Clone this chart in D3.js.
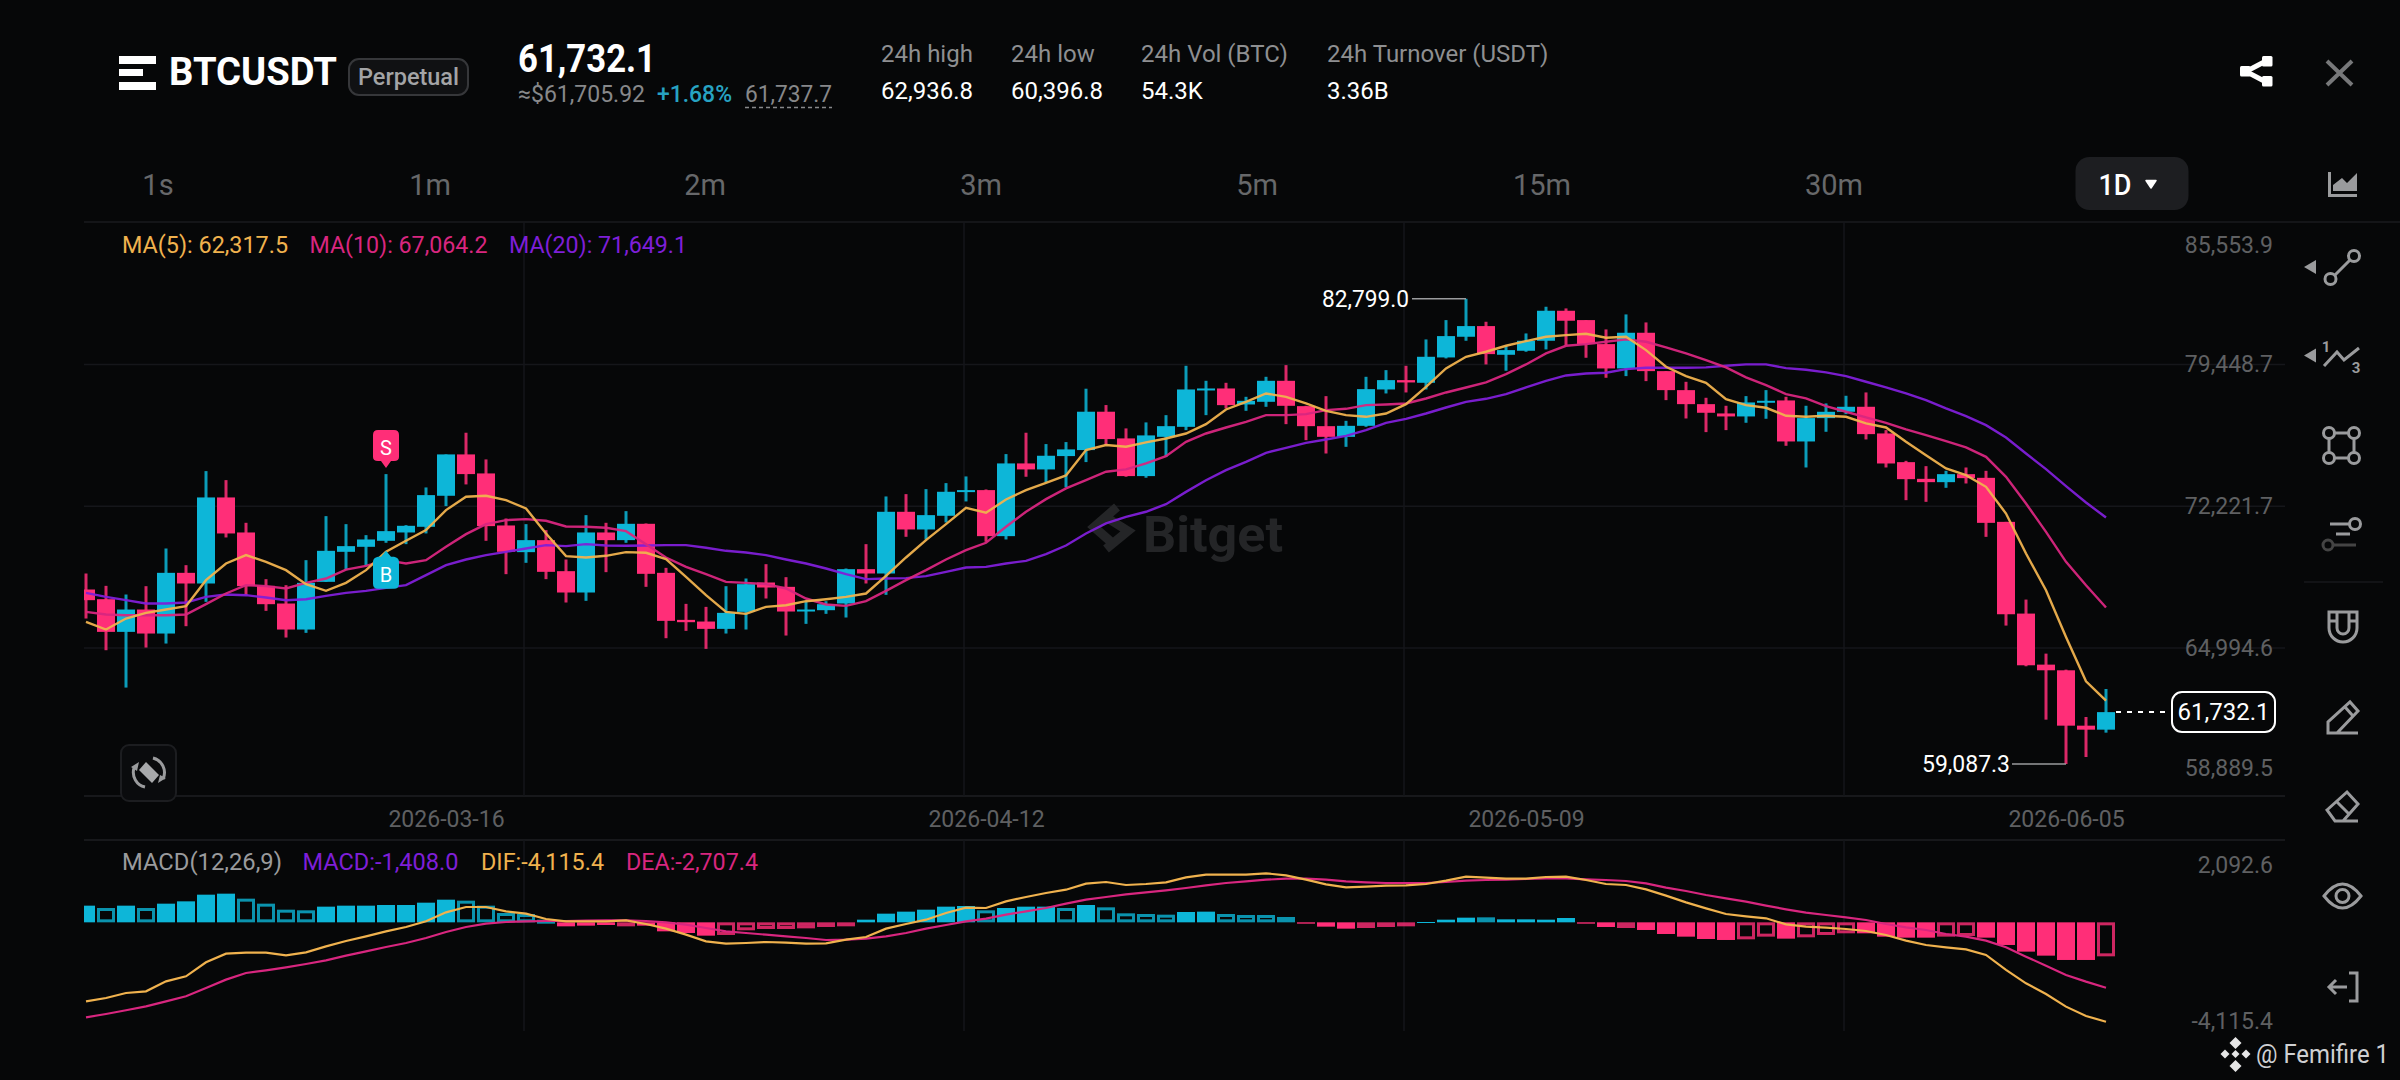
<!DOCTYPE html>
<html>

<head>
    <title>BTCUSDT Perpetual - 1D</title>
    <script src="https://d3js.org/d3.v7.min.js"></script>
    <style>
        body {
            margin: 0;
            background: #060708;
        }

        text {
            font-family: Roboto, "Noto Sans", sans-serif;
        }

        .tick text {
            font-family: Roboto, "Noto Sans", sans-serif;
            font-size: 23px;
            fill: #5f6062;
        }
    </style>
</head>

<body>
    <div id="chart"></div>
    <script>
        // daily candles, index 0 = 2026-02-26
        var opens = [
            67981, 67488, 65822, 66961, 65737, 68831, 68287, 72673, 70888, 68168,
            67267, 65941, 68372, 69902, 70157, 70463, 70888, 71177, 72758, 74866,
            73897, 71245, 69885, 70497, 68916, 67828, 70888, 70497, 71330, 68831,
            66434, 66349, 65975, 66842, 68338, 68117, 66859, 66927, 67267, 69018,
            68797, 71942, 71041, 71738, 72945, 73047, 70701, 74407, 74101, 74781,
            75087, 77042, 75682, 73761, 75762, 76272, 78142, 78227, 77411, 77547,
            78618, 77326, 76306, 75762, 76323, 78176, 78652, 78516, 79808, 80862,
            81406, 79944, 80148, 80658, 82188, 81712, 80488, 79247, 81066, 79111,
            78142, 77428, 76954, 76801, 77532, 77617, 75526, 76716, 77039, 77294,
            75934, 74472, 73622, 73452, 73860, 73673, 71429, 66754, 64153, 63864,
            61042, 60838]
        var highs = [
            68797, 68168, 67726, 68151, 70072, 69222, 74016, 73557, 71381, 68508,
            68202, 69477, 71721, 71313, 70752, 73863, 71262, 73183, 74866, 75971,
            74611, 71602, 71313, 71007, 69511, 71772, 71381, 71976, 71347, 69086,
            67250, 67097, 68151, 68542, 69273, 68610, 67386, 67386, 69052, 70293,
            72724, 72843, 73098, 73404, 73744, 73081, 74883, 75971, 75393, 75495,
            78215, 77382, 76192, 76498, 76867, 79383, 78618, 78516, 77802, 78822,
            79417, 77343, 77836, 76578, 78822, 79162, 79383, 80726, 81712, 82799,
            81627, 80386, 81032, 82392, 82307, 81712, 81236, 82001, 81593, 79111,
            78567, 77753, 77345, 77838, 78144, 77804, 77345, 77464, 77855, 78025,
            76104, 74540, 74268, 74030, 74200, 74030, 71429, 67468, 64714, 63898,
            61484, 62912]
        var lows = [
            66502, 64887, 62983, 65023, 65227, 66111, 67352, 70633, 67692, 66893,
            65533, 65771, 68372, 68967, 69222, 70361, 70293, 70837, 72231, 73336,
            70463, 68763, 69341, 68508, 67318, 67403, 68865, 70361, 68117, 65499,
            65873, 64955, 65737, 65941, 67522, 65635, 66230, 66740, 66553, 68287,
            67709, 70667, 70531, 71398, 72469, 70412, 70531, 73727, 73455, 73183,
            74475, 75342, 73727, 73676, 74742, 76102, 76867, 77207, 77088, 77292,
            76408, 75592, 74912, 75252, 76272, 77972, 78023, 78176, 79757, 80658,
            79451, 79128, 80097, 80216, 80437, 79791, 78771, 78856, 78601, 77632,
            76697, 76002, 76104, 76478, 76682, 75305, 74200, 76019, 76920, 75628,
            74200, 72534, 72449, 73163, 73384, 70664, 66142, 64068, 61348, 59087.3,
            59444, 60685]
        var closes = [
            67437, 65822, 66961, 65737, 68831, 68287, 72673, 70837, 68151, 67233,
            65941, 68321, 69953, 70191, 70531, 70956, 71228, 72792, 74866, 73863,
            71211, 69902, 70497, 68882, 67828, 70888, 70497, 71330, 68780, 66383,
            66315, 65975, 66791, 68253, 68083, 66859, 66961, 67233, 69018, 68797,
            71942, 71041, 71772, 72962, 73047, 70701, 74407, 74101, 74798, 75121,
            77042, 75648, 73761, 75835, 76306, 78176, 78227, 77377, 77598, 78618,
            77343, 76306, 75762, 76323, 78193, 78652, 78533, 79842, 80896, 81406,
            79978, 80182, 80658, 82188, 81678, 80488, 79247, 81066, 79111, 78142,
            77428, 76988, 76801, 77515, 77600, 75526, 76716, 77039, 77294, 75900,
            74404, 73605, 73452, 73860, 73656, 71378, 66720, 64119, 63864, 61042,
            60838, 61732.1]

        var ma5 = [
            66332, 65941, 66502, 66791, 66961, 67131, 68457, 69307, 69732, 69392,
            68967, 68253, 67913, 68321, 68967, 69902, 70463, 71007, 72027, 72707,
            72758, 72537, 72112, 70837, 69681, 69613, 69698, 69885, 69851, 69528,
            68627, 67692, 66842, 66740, 67097, 67182, 67386, 67488, 67607, 67777,
            68678, 69613, 70497, 71313, 72146, 71891, 72571, 73047, 73421, 73795,
            75087, 75342, 75257, 75478, 75677, 75932, 76408, 77156, 77547, 77972,
            77802, 77462, 77088, 76867, 76782, 76952, 77428, 78312, 79247, 79842,
            80097, 80403, 80641, 80862, 80947, 81015, 80811, 80862, 80182, 79332,
            78856, 78518, 77685, 77379, 77243, 76835, 76784, 76835, 76784, 76444,
            76240, 75509, 74829, 74149, 73809, 73214, 71854, 69814, 67944, 65564,
            63303, 62317.5]
        var ma10 = [
            66842, 66706, 66672, 66672, 66672, 66706, 67233, 67777, 68202, 68151,
            68032, 68321, 68542, 68999, 69188, 69477, 69307, 69477, 70157, 70803,
            71313, 71517, 71568, 71483, 71194, 71177, 71126, 70956, 70293, 69613,
            69137, 68763, 68372, 68321, 68253, 68032, 67522, 67216, 67148, 67386,
            67913, 68457, 68967, 69511, 69987, 70361, 71177, 71942, 72588, 73132,
            73557, 73982, 74101, 74407, 74776, 75507, 75932, 76238, 76527, 76867,
            76867, 76918, 77122, 77190, 77377, 77411, 77462, 77717, 78023, 78278,
            78533, 78958, 79451, 80012, 80403, 80488, 80607, 80726, 80607, 80318,
            80012, 79674, 79300, 78790, 78399, 77940, 77719, 77328, 77039, 76750,
            76478, 76138, 75849, 75543, 75220, 74744, 73724, 72364, 70919, 69389,
            68199, 67064.2]
        var ma20 = [
            67811, 67607, 67437, 67267, 67267, 67318, 67607, 67726, 67692, 67573,
            67437, 67488, 67658, 67811, 67913, 68066, 68202, 68712, 69222, 69511,
            69732, 69902, 70072, 70242, 70191, 70293, 70225, 70208, 70225, 70242,
            70242, 70106, 69953, 69868, 69732, 69511, 69307, 69052, 68763, 68508,
            68542, 68559, 68661, 68882, 69103, 69137, 69307, 69443, 69783, 70225,
            70837, 71347, 71687, 71942, 72328, 72957, 73552, 74062, 74487, 74946,
            75201, 75456, 75626, 75813, 76102, 76476, 76680, 76952, 77258, 77547,
            77700, 77938, 78278, 78618, 78890, 78992, 79026, 79213, 79281, 79281,
            79281, 79300, 79385, 79453, 79453, 79266, 79181, 79045, 78858, 78569,
            78280, 77974, 77634, 77209, 76818, 76359, 75730, 74914, 74115, 73248,
            72415, 71649.1]

        var macdHist = [
            690, 593, 690, 593, 773, 869, 1145, 1187, 980, 773,
            524, 497, 649, 690, 690, 718, 718, 814, 938, 897,
            690, 386, 345, 110, -166, -138, -110, -40, -138, -373,
            -442, -552, -524, -331, -276, -276, -250, -193, -110, 110,
            359, 442, 524, 649, 676, 497, 593, 649, 649, 593,
            718, 621, 373, 345, 317, 428, 442, 345, 304, 304,
            221, -55, -179, -262, -235, -193, -166, 14, 110, 193,
            207, 124, 124, 110, 179, -55, -193, -235, -317, -483,
            -593, -690, -731, -704, -593, -676, -621, -524, -455, -455,
            -593, -635, -635, -593, -566, -635, -938, -1214, -1380, -1559,
            -1559, -1408]
        var macdHollow = [1, 3, 8, 9, 10, 11, 19, 20, 21, 22, 23, 27, 32, 33, 34, 35, 36, 37, 38, 45, 49, 51, 52, 53, 54,
            57, 58, 59, 60, 64, 65, 66, 70, 77, 83, 84, 86, 87, 88, 93, 94, 101]
        var dif = [
            -3271, -3133, -2926, -2857, -2443, -2236, -1656, -1297, -1256, -1256,
            -1366, -1242, -994, -773, -580, -373, -193, 41, 414, 635,
            635, 455, 359, 138, 41, 41, 41, 83, -69, -262,
            -511, -787, -883, -856, -814, -842, -883, -869, -718, -607,
            -262, -69, 110, 386, 607, 593, 869, 1049, 1214, 1352,
            1601, 1670, 1546, 1587, 1656, 1863, 1973, 1973, 1973, 2029,
            1946, 1766, 1573, 1449, 1477, 1518, 1532, 1587, 1725, 1891,
            1849, 1808, 1808, 1877, 1891, 1753, 1587, 1546, 1366, 1104,
            828, 580, 345, 248, 166, -83, -179, -221, -276, -359,
            -524, -759, -938, -1035, -1118, -1352, -1973, -2525, -2967, -3491,
            -3878, -4115.4]
        var dea = [
            -3933, -3795, -3643, -3478, -3271, -3064, -2719, -2374, -2098, -1987,
            -1863, -1725, -1573, -1380, -1201, -1021, -856, -649, -400, -193,
            -55, 14, 41, 55, 55, 69, 83, 83, 55, 0,
            -97, -235, -373, -442, -511, -580, -649, -731, -718, -676,
            -580, -442, -262, -110, 41, 152, 317, 455, 593, 773,
            938, 1049, 1159, 1242, 1325, 1421, 1532, 1628, 1697, 1766,
            1808, 1808, 1766, 1697, 1656, 1628, 1628, 1628, 1670, 1725,
            1753, 1766, 1794, 1822, 1822, 1780, 1753, 1711, 1615, 1435,
            1297, 1132, 994, 856, 690, 538, 400, 304, 207, 97,
            -69, -207, -317, -483, -593, -759, -1035, -1421, -1794, -2180,
            -2456, -2707.4]

        var priceTicks = [85553.9, 79448.7, 72221.7, 64994.6, 58889.5]
        var priceGrid = [79448.7, 72221.7, 64994.6]
        var macdTicks = [2092.6, -4115.4]
        var macdTickLabels = ["2,092.6", "-4,115.4"]
        var dateIdx = [18, 45, 72, 99]
        var dateLabels = ["2026-03-16", "2026-04-12", "2026-05-09", "2026-06-05"]
        var gridIdx = [21.9, 43.9, 65.9, 87.9]
        var tabs = ["1s", "1m", "2m", "3m", "5m", "15m", "30m"]
        var tabX = [158, 430, 705, 981, 1257, 1542, 1834]
        var stats = [["24h high", "62,936.8", 881], ["24h low", "60,396.8", 1011], ["24h Vol (BTC)", "54.3K", 1141], ["24h Turnover (USDT)", "3.36B", 1327]]

        var teal = "#0db6d8", pink = "#ff2e78"
        var orange = "#f0b24e", magenta = "#d8267f", purple = "#7f1fd8"
        var gridColor = "#15161a"
        var fmt = d3.format(",.1f")

        var svg = d3.select("#chart").append("svg")
            .attr("width", 2400)
            .attr("height", 1080)
            .style("display", "block")

        function label(x, y, str, size, color, weight, anchor, len) {
            var t = svg.append("text")
                .attr("x", x).attr("y", y).text(str)
                .style("font-size", size + "px")
                .style("fill", color)
                .style("font-weight", weight || 400)
                .attr("text-anchor", anchor || "start")
            // the app's font is narrower than Roboto, so squeeze to the measured width
            if (len) t.attr("textLength", len).attr("lengthAdjust", "spacingAndGlyphs")
            return t
        }

        var x = d3.scaleLinear().domain([0, 101]).range([86, 2106])
        var y = d3.scaleLinear().domain([58889.5, 85553.9]).range([767.9, 244.7])
        var yMacd = d3.scaleLinear().domain([-4115.4, 2092.6]).range([1021.7, 871.8])

        svg.append("clipPath").attr("id", "plot").append("rect")
            .attr("x", 84).attr("y", 222).attr("width", 2201).attr("height", 810)

        // ---- header
        svg.selectAll(".burger").data([[119, 56, 37, 8], [119, 69, 24, 7], [119, 82, 37, 8]]).enter().append("rect")
            .attr("x", function (d) { return d[0] }).attr("y", function (d) { return d[1] })
            .attr("width", function (d) { return d[2] }).attr("height", function (d) { return d[3] })
            .style("fill", "#fff")
        label(169, 85, "BTCUSDT", 38, "#fff", 700, "start", 168)
        svg.append("rect").attr("x", 349).attr("y", 59).attr("width", 119).attr("height", 36).attr("rx", 10)
            .style("fill", "#101113").style("stroke", "#36373a").style("stroke-width", 2)
        label(408.5, 85, "Perpetual", 24, "#a3a4a6", 500, "middle", 101)
        label(518, 72, "61,732.1", 39, "#fff", 700, "start", 138)
        label(518, 102, "≈$61,705.92", 23, "#87888a", 400, "start", 127)
        label(657, 102, "+1.68%", 23, "#27a3c2", 500, "start", 75)
        label(745, 102, "61,737.7", 23, "#87888a", 400, "start", 87)
        svg.append("line").attr("x1", 745).attr("x2", 832).attr("y1", 107.5).attr("y2", 107.5)
            .style("stroke", "#87888a").style("stroke-width", 1.5).style("stroke-dasharray", "4 3")
        stats.forEach(function (s) {
            label(s[2], 62, s[0], 24, "#8e8f91")
            label(s[2], 99, s[1], 24, "#fff")
        })
        // share + close
        svg.append("path").attr("d", "M2266 61L2246 71.5L2266 82")
            .style("fill", "none").style("stroke", "#fff").style("stroke-width", 5)
        svg.selectAll(".shareDot").data([[2262, 56], [2240, 66], [2262, 76]]).enter().append("rect")
            .attr("x", function (d) { return d[0] }).attr("y", function (d) { return d[1] })
            .attr("width", 10.5).attr("height", 10.5).attr("rx", 1.5).style("fill", "#fff")
        svg.append("path").attr("d", "M2327 61L2352 85M2352 61L2327 85")
            .style("fill", "none").style("stroke", "#77787a").style("stroke-width", 4)

        // ---- timeframe tabs
        tabs.forEach(function (t, i) { label(tabX[i], 195, t, 29, "#67686a", 400, "middle") })
        svg.append("rect").attr("x", 2075.5).attr("y", 157).attr("width", 113).attr("height", 53).attr("rx", 14).style("fill", "#1d1e21")
        label(2115, 195, "1D", 30, "#fff", 500, "middle", 33)
        svg.append("path").attr("d", "M2146 180.5L2156 180.5L2151 188Z").style("fill", "#fff").style("stroke", "#fff").style("stroke-width", 1.5).style("stroke-linejoin", "round")
        svg.append("path").attr("d", "M2329.5 172V195.5H2357").style("fill", "none").style("stroke", "#9a9b9d").style("stroke-width", 3)
        svg.append("path").attr("d", "M2333 191V185L2342 178L2347 183L2357 173V191Z").style("fill", "#9a9b9d")

        // ---- frame and grid
        svg.append("line").attr("x1", 84).attr("x2", 2400).attr("y1", 222).attr("y2", 222).style("stroke", "#1a1b1e").style("stroke-width", 1.5)
        svg.selectAll(".sep").data([796, 840]).enter().append("line")
            .attr("x1", 84).attr("x2", 2285).attr("y1", function (d) { return d }).attr("y2", function (d) { return d })
            .style("stroke", "#17181b").style("stroke-width", 2)
        svg.selectAll(".hgrid").data(priceGrid).enter().append("line")
            .attr("x1", 84).attr("x2", 2285).attr("y1", function (d) { return y(d) }).attr("y2", function (d) { return y(d) })
            .style("stroke", gridColor).style("stroke-width", 1.5)
        svg.selectAll(".vgrid").data(gridIdx).enter().append("line")
            .attr("x1", function (d) { return x(d) }).attr("x2", function (d) { return x(d) })
            .attr("y1", 222).attr("y2", 796).style("stroke", gridColor).style("stroke-width", 1.5)
        svg.selectAll(".vgrid2").data(gridIdx).enter().append("line")
            .attr("x1", function (d) { return x(d) }).attr("x2", function (d) { return x(d) })
            .attr("y1", 840).attr("y2", 1031).style("stroke", gridColor).style("stroke-width", 1.5)

        // ---- watermark
        svg.append("path").attr("d", "M1117 507L1094 527L1110 541M1104 516L1128 531L1106 549")
            .style("fill", "none").style("stroke", "#242527").style("stroke-width", 9)
        label(1143, 552, "Bitget", 50, "#242527", 700, "start", 140)

        // ---- candles
        var plot = svg.append("g").attr("clip-path", "url(#plot)")
        var idx = d3.range(opens.length)
        function candleColor(i) { return closes[i] >= opens[i] ? teal : pink }

        plot.selectAll(".wick").data(idx).enter().append("line")
            .attr("x1", function (i) { return x(i) }).attr("x2", function (i) { return x(i) })
            .attr("y1", function (i) { return y(highs[i]) }).attr("y2", function (i) { return y(lows[i]) })
            .style("stroke", candleColor).style("stroke-width", 3).style("opacity", 0.85)
        plot.selectAll(".body").data(idx).enter().append("rect")
            .attr("x", function (i) { return x(i) - 9 })
            .attr("width", 18)
            .attr("y", function (i) { return y(Math.max(opens[i], closes[i])) })
            .attr("height", function (i) { return Math.max(2, Math.abs(y(opens[i]) - y(closes[i]))) })
            .style("fill", candleColor)

        var maLine = d3.line().x(function (d, i) { return x(i) }).y(function (d) { return y(d) })
        var series = [[ma20, purple], [ma10, magenta], [ma5, orange]]
        series.forEach(function (s) {
            plot.append("path").attr("d", maLine(s[0]))
                .style("fill", "none").style("stroke", s[1]).style("stroke-width", 2.4).style("opacity", 0.95)
        })

        // buy / sell flags on candle 15
        var sg = svg.append("g").attr("transform", "translate(" + x(15) + "," + (y(highs[15]) - 6) + ")")
        sg.append("path").attr("d", "M-13 -33Q-13 -38 -8 -38H8Q13 -38 13 -33V-11Q13 -7 8 -7H5L0 0L-5 -7H-8Q-13 -7 -13 -11Z").style("fill", pink)
        sg.append("text").attr("y", -13.5).attr("text-anchor", "middle").text("S").style("font-size", "20px").style("fill", "#fff")
        var bg = svg.append("g").attr("transform", "translate(" + x(15) + "," + (y(lows[15]) + 8) + ")")
        bg.append("path").attr("d", "M-13 33Q-13 38 -8 38H8Q13 38 13 33V11Q13 7 8 6H5L0 0L-5 6H-8Q-13 7 -13 11Z").style("fill", teal)
        bg.append("text").attr("y", 31).attr("text-anchor", "middle").text("B").style("font-size", "20px").style("fill", "#fff")

        // high/low annotations
        label(1409, 306.5, fmt(82799), 24, "#fff", 400, "end", 87)
        svg.append("line").attr("x1", 1412).attr("x2", x(69)).attr("y1", y(82799)).attr("y2", y(82799)).style("stroke", "#9a9b9d").style("stroke-width", 1.5)
        label(2010, 772, fmt(59087.3), 24, "#fff", 400, "end", 88)
        svg.append("line").attr("x1", 2012).attr("x2", x(99)).attr("y1", y(59087.3)).attr("y2", y(59087.3)).style("stroke", "#9a9b9d").style("stroke-width", 1.5)

        // last price tag
        svg.append("line").attr("x1", x(101) + 10).attr("x2", 2172).attr("y1", y(61732.1)).attr("y2", y(61732.1))
            .style("stroke", "#fff").style("stroke-width", 2).style("stroke-dasharray", "5 6")
        svg.append("rect").attr("x", 2172).attr("y", 692).attr("width", 103).attr("height", 40).attr("rx", 10)
            .style("fill", "#060708").style("stroke", "#fff").style("stroke-width", 2)
        label(2223.5, 720, fmt(61732.1), 24, "#fff", 400, "middle")

        // ---- axes
        var yAxis = d3.axisLeft(y).tickValues(priceTicks).tickSize(0).tickFormat(fmt)
        var ax = svg.append("g").attr("transform", "translate(2273,0)").call(yAxis)
        ax.select(".domain").remove()
        ax.selectAll("text").attr("x", 0)
        var xAxis = d3.axisBottom(x).tickValues(dateIdx).tickSize(0).tickFormat(function (d, i) { return dateLabels[i] })
        var ax2 = svg.append("g").attr("transform", "translate(0,808)").call(xAxis)
        ax2.select(".domain").remove()
        var mAxis = d3.axisLeft(yMacd).tickValues(macdTicks).tickSize(0).tickFormat(function (d, i) { return macdTickLabels[i] })
        var ax3 = svg.append("g").attr("transform", "translate(2273,0)").call(mAxis)
        ax3.select(".domain").remove()
        ax3.selectAll("text").attr("x", 0).attr("dy", function (d) { return d > 0 ? "0.05em" : "0.3em" })

        // ---- legends
        label(122, 253, "MA(5): 62,317.5", 23, orange, 400, "start", 166)
        label(309.5, 253, "MA(10): 67,064.2", 23, magenta, 400, "start", 178)
        label(509, 253, "MA(20): 71,649.1", 23, purple, 400, "start", 178)
        label(122, 870, "MACD(12,26,9)", 23, "#9a9b9d", 400, "start", 160)
        label(302.5, 870, "MACD:-1,408.0", 23, purple, 400, "start", 156)
        label(481, 870, "DIF:-4,115.4", 23, orange, 400, "start", 123)
        label(626, 870, "DEA:-2,707.4", 23, magenta, 400, "start", 132)

        // ---- macd pane
        var macdPlot = svg.append("g").attr("clip-path", "url(#plot)")
        function histColor(i) { return macdHist[i] >= 0 ? teal : pink }
        macdPlot.selectAll(".hist").data(idx).enter().append("rect")
            .attr("x", function (i) { return macdHollow.indexOf(i) >= 0 ? x(i) - 7.5 : x(i) - 9 })
            .attr("width", function (i) { return macdHollow.indexOf(i) >= 0 ? 15 : 18 })
            .attr("y", function (i) {
                var t = Math.min(yMacd(macdHist[i]), yMacd(0))
                return macdHollow.indexOf(i) >= 0 ? t + 1.5 : t
            })
            .attr("height", function (i) {
                var h = Math.abs(yMacd(macdHist[i]) - yMacd(0))
                return macdHollow.indexOf(i) >= 0 ? Math.max(1, h - 3) : Math.max(1, h)
            })
            .style("fill", function (i) { return macdHollow.indexOf(i) >= 0 ? "none" : histColor(i) })
            .style("stroke", function (i) { return macdHollow.indexOf(i) >= 0 ? histColor(i) : "none" })
            .style("stroke-width", 3)
            .style("stroke-opacity", 0.8)

        var macdLine = d3.line().x(function (d, i) { return x(i) }).y(function (d) { return yMacd(d) })
        macdPlot.append("path").attr("d", macdLine(dea)).style("fill", "none").style("stroke", magenta).style("stroke-width", 2.2)
        macdPlot.append("path").attr("d", macdLine(dif)).style("fill", "none").style("stroke", orange).style("stroke-width", 2.2)

        // ---- reset button
        svg.append("rect").attr("x", 121).attr("y", 745).attr("width", 55).attr("height", 56).attr("rx", 8)
            .style("fill", "#0a0b0d").style("stroke", "#1c1d20").style("stroke-width", 2)
        svg.append("path").attr("d", "M134 768A15 15 0 0 0 145 787M153 758A15 15 0 0 1 163 779")
            .style("fill", "none").style("stroke", "#9a9b9d").style("stroke-width", 3)
        svg.append("path").attr("d", "M131 767L139 762L137 771ZM166 778L158 783L160 775Z").style("fill", "#9a9b9d")
        svg.append("path").attr("d", "M146 762L159 775L152 783L139 770Z").style("fill", "#a8a9ab")

        // ---- right toolbar
        var tool = svg.append("g").style("fill", "none").style("stroke", "#9a9b9d").style("stroke-width", 3)
        tool.append("path").attr("d", "M2335 275L2350 260")
        tool.selectAll(".c1").data([[2330.5, 279], [2354, 256], [2329, 433], [2354, 433], [2329, 458], [2354, 458], [2355, 524]]).enter().append("circle")
            .attr("cx", function (d) { return d[0] }).attr("cy", function (d) { return d[1] }).attr("r", 5.5)
        tool.append("path").attr("d", "M2324 366L2337 352L2344 360L2359 348")
        tool.append("path").attr("d", "M2335 433H2348M2335 458H2348M2329 439V452M2354 439V452")
        tool.append("path").attr("d", "M2330 524H2349M2336 534H2350")
        tool.append("circle").attr("cx", 2328).attr("cy", 545).attr("r", 5).style("stroke", "#444")
        tool.append("path").attr("d", "M2334 545H2356").style("stroke", "#444")
        // magnet
        tool.append("path").attr("d", "M2329 612H2357V628A14 14 0 0 1 2329 628ZM2329 621H2337M2349 621H2357M2337 612V628A6 6 0 0 0 2349 628V612")
        // pencil
        tool.append("path").attr("d", "M2328 733V722L2350 702L2358 711L2337 733ZM2328 733H2358M2345 707L2353 716")
        // eraser
        tool.append("path").attr("d", "M2327 810L2347 792L2358 804L2343 821H2335ZM2336 801L2349 814M2335 821H2358")
        // eye
        tool.append("path").attr("d", "M2324 896Q2342.5 872 2361 896Q2342.5 920 2324 896Z")
        tool.append("circle").attr("cx", 2342.5).attr("cy", 896).attr("r", 6.5)
        // exit
        tool.append("path").attr("d", "M2349 973H2357V1001H2349M2329 987H2347M2336 980L2329 987L2336 994")
        // arrows
        svg.selectAll(".arrow").data([267, 355.5]).enter().append("path")
            .attr("d", function (d) { return "M2316 " + (d - 7) + "V" + (d + 7) + "L2304 " + d + "Z" })
            .style("fill", "#9a9b9d")
        label(2326, 352, "1", 15, "#9a9b9d", 700, "middle")
        label(2356, 373, "3", 15, "#9a9b9d", 700, "middle")
        svg.append("line").attr("x1", 2304).attr("x2", 2383).attr("y1", 582).attr("y2", 582).style("stroke", "#17181b").style("stroke-width", 1.5)

        // ---- source mark
        label(2256, 1063, "@ Femifire 1", 26, "#cfd0d2", 400, "start", 133)
        var diamonds = [[2235.5, 1043, 6], [2235.5, 1066, 6], [2225, 1054, 4.5], [2246, 1054, 4.5], [2235.5, 1054, 4]]
        svg.selectAll(".dm").data(diamonds).enter().append("path")
            .attr("d", function (d) {
                return "M" + d[0] + " " + (d[1] - d[2]) + "L" + (d[0] + d[2]) + " " + d[1] + "L" + d[0] + " " + (d[1] + d[2]) + "L" + (d[0] - d[2]) + " " + d[1] + "Z"
            })
            .style("fill", "#e6e6e6")
    </script>

</body>

</html>
